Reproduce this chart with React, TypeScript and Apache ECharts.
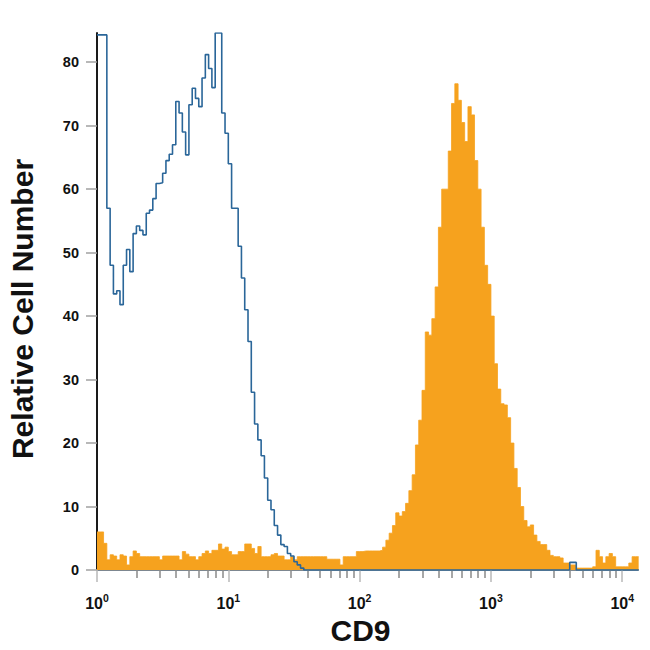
import React, { useEffect, useRef } from "react";
import * as echarts from "echarts";

// Histogram bins on a log10(CD9) scale
const BIN_START_LOG = 0;
const BIN_WIDTH_LOG = 0.025;
const X_MIN_LOG = 0;
const X_MAX_LOG = 4.12;
const Y_MAX = 84.6;

// Isotype control (blue outline), counts per bin
const isotypeCounts = [
  84.3, 84.3, 84.3, 57, 48, 43.5, 44, 41.8, 48, 50.5,
  47, 53, 54.2, 53.5, 52.8, 56.2, 56.7, 58.5, 60.9, 61,
  62.5, 64.5, 65.5, 67, 73.8, 72, 69, 65.4, 73.3, 75.9,
  74.3, 73, 77.5, 81.2, 79, 76, 84.6, 84.6, 72, 68.8,
  64, 57, 57, 51, 46, 41, 36, 28, 23, 20.5,
  18, 14.5, 11, 9.5, 7, 5.5, 4, 3.7, 2.6, 2.2,
  1.3, 0.8, 0.3, 0, 0, 0, 0, 0, 0, 0,
  0, 0, 0, 0, 0, 0, 0, 0, 0, 0,
  0, 0, 0, 0, 0, 0, 0, 0, 0, 0,
  0, 0, 0, 0, 0, 0, 0, 0, 0, 0,
  0, 0, 0, 0, 0, 0, 0, 0, 0, 0,
  0, 0, 0, 0, 0, 0, 0, 0, 0, 0,
  0, 0, 0, 0, 0, 0, 0, 0, 0, 0,
  0, 0, 0, 0, 0, 0, 0, 0, 0, 0,
  0, 0, 0, 0, 1.2, 1.2, 0, 0, 0, 0,
  0, 0, 0, 0, 0, 0, 0, 0, 0, 0,
  0, 0, 0, 0, 0,
];

// CD9 staining (orange filled), counts per bin
const cd9Counts = [
  6.0, 6.0, 4.2, 1.6, 2.4, 2.2, 1.6, 2.4, 2.2, 0.8,
  2.1, 3.0, 2.6, 2.1, 2.1, 2.1, 2.1, 2.1, 2.1, 1.6,
  2.2, 2.2, 2.2, 2.2, 2.2, 1.6, 2.9, 2.5, 2.1, 2.1,
  1.6, 2.1, 2.6, 3.0, 2.6, 3.1, 3.1, 4.1, 3.3, 3.6,
  2.9, 2.4, 2.4, 2.9, 2.9, 4.1, 4.1, 3.4, 2.6, 3.7,
  2.1, 2.1, 2.1, 2.4, 2.6, 2.2, 2.2, 1.6, 1.6, 2.1,
  1.6, 2.1, 2.1, 2.1, 2.1, 2.1, 2.1, 2.1, 2.1, 2.1,
  1.7, 1.7, 1.7, 1.7, 0.8, 2.1, 2.1, 2.1, 2.1, 2.9,
  2.9, 3.0, 3.0, 3.0, 3.0, 3.0, 3.1, 3.6, 4.7, 5.8,
  7, 9, 8.5, 9.2, 10.5, 12.5, 15, 19.7, 23.6, 28.3,
  37.5, 37, 39.6, 44.6, 54, 60, 60, 66, 73.5, 76.6,
  74, 70.5, 67.5, 73, 71.7, 64.5, 60, 54, 48, 45,
  40, 32.5, 28.5, 26.2, 26, 24, 20, 16, 13, 10,
  7.8, 6.8, 7.1, 5.5, 4.5, 4.0, 4.0, 3.1, 2.3, 2.1,
  2.1, 1.9, 1.1, 1.1, 0.8, 0.8, 0.3, 0.3, 0.3, 0.3,
  0.3, 0.5, 3.1, 2.1, 1.1, 2.1, 2.6, 2.1, 0.5, 0.5,
  0.5, 0.5, 1.1, 2.1, 2.1,
];

const yTicks = [0, 10, 20, 30, 40, 50, 60, 70, 80];
const xDecades = [0, 1, 2, 3, 4];
const xMinorMultipliers = [2, 3, 4, 5, 6, 7, 8, 9];

const FONT = "'Liberation Sans', Arial, 'DejaVu Sans', sans-serif";

function toStepData(counts: number[]): number[][] {
  const pts = counts.map((v, i) => [BIN_START_LOG + i * BIN_WIDTH_LOG, v]);
  pts.push([BIN_START_LOG + counts.length * BIN_WIDTH_LOG, counts[counts.length - 1]]);
  return pts;
}

export default function App() {
  const ref = useRef<HTMLDivElement>(null);

  useEffect(() => {
    if (!ref.current) return;
    const chart = echarts.init(ref.current, undefined, { renderer: "svg" });

    const minorTicks: number[] = [];
    xDecades.forEach((d) => {
      xMinorMultipliers.forEach((m) => {
        const v = d + Math.log10(m);
        if (v < X_MAX_LOG) minorTicks.push(v);
      });
    });

    const option = {
      animation: false,
      grid: {
        left: 97,
        right: 12,
        top: 33,
        bottom: 80,
        containLabel: false,
        outerBoundsMode: "none",
      },
      xAxis: [
        {
          type: "value",
          min: X_MIN_LOG,
          max: X_MAX_LOG,
          position: "bottom",
          name: "CD9",
          nameLocation: "middle",
          nameGap: 45,
          nameTextStyle: {
            fontFamily: FONT,
            fontWeight: "bold",
            fontSize: 30,
            color: "#111",
            padding: [0, 14, 0, 0],
          },
          axisLine: { show: true, onZero: false, lineStyle: { color: "#7d8790", width: 2 } },
          axisTick: {
            show: true,
            customValues: xDecades,
            length: 12,
            lineStyle: { color: "#b8b8b8", width: 1.5 },
          },
          axisLabel: {
            customValues: xDecades,
            margin: 22,
            formatter: (v: number) => "{b|10}{s|" + Math.round(v) + "}",
            rich: {
              b: { fontFamily: FONT, fontWeight: "bold", fontSize: 16, color: "#111", lineHeight: 22 },
              s: { fontFamily: FONT, fontWeight: "bold", fontSize: 10.5, color: "#111", lineHeight: 10, verticalAlign: "top" },
            },
          },
          splitLine: { show: false },
        },
        {
          type: "value",
          min: X_MIN_LOG,
          max: X_MAX_LOG,
          position: "bottom",
          axisLine: { show: false },
          axisTick: {
            show: true,
            customValues: minorTicks,
            length: 8,
            lineStyle: { color: "#8a8a8a", width: 1.5 },
          },
          axisLabel: { show: false },
          splitLine: { show: false },
        },
      ],
      yAxis: {
        type: "value",
        min: 0,
        max: Y_MAX,
        name: "Relative Cell Number",
        nameLocation: "middle",
        nameGap: 60,
        nameTextStyle: {
          fontFamily: FONT,
          fontWeight: "bold",
          fontSize: 30,
          color: "#111",
          padding: [0, 15, 0, 0],
        },
        axisLine: { show: true, lineStyle: { color: "#1a1a1a", width: 2 } },
        axisTick: {
          show: true,
          customValues: yTicks,
          length: 11,
          lineStyle: { color: "#a0a0a0", width: 1.5 },
        },
        axisLabel: {
          customValues: yTicks,
          margin: 18,
          fontFamily: FONT,
          fontSize: 14.5,
          fontWeight: "bold",
          color: "#111",
        },
        splitLine: { show: false },
      },
      series: [
        {
          type: "line",
          name: "CD9",
          xAxisIndex: 0,
          step: "end",
          data: toStepData(cd9Counts),
          symbol: "none",
          lineStyle: { color: "#f6a21e", width: 0.8 },
          areaStyle: { color: "#f6a21e", opacity: 1 },
          z: 2,
        },
        {
          type: "line",
          name: "Isotype",
          xAxisIndex: 0,
          step: "end",
          data: toStepData(isotypeCounts),
          symbol: "none",
          lineStyle: { color: "#2a6699", width: 1.6 },
          z: 3,
        },
      ],
    };

    chart.setOption(option as any);
    return () => chart.dispose();
  }, []);

  return (
    <div
      ref={ref}
      style={{ position: "absolute", left: 0, top: 0, width: 650, height: 650, background: "#fff" }}
    />
  );
}
